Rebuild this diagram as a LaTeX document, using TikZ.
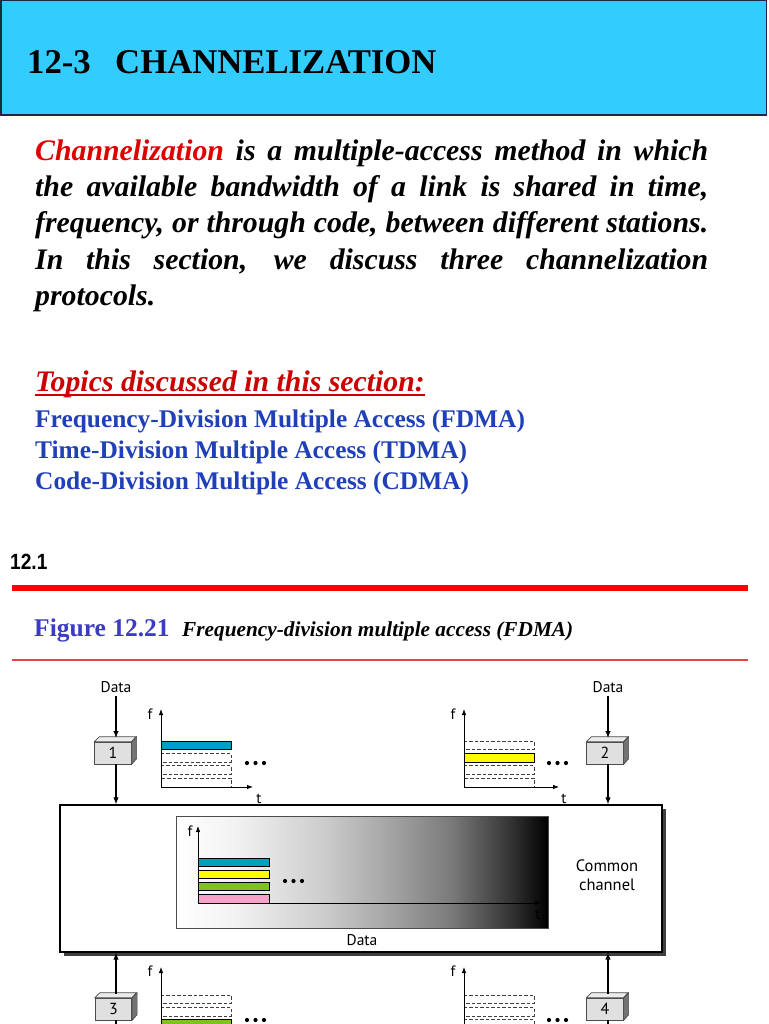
\documentclass[tikz,border=0pt]{standalone}
\usepackage{fontspec}
\setmainfont{Liberation Serif}
\newfontfamily\figsans{PT Sans}
\newfontfamily\arialfont{Liberation Sans}
\usetikzlibrary{arrows.meta,shadows}
\definecolor{headblue}{HTML}{33CCFF}
\definecolor{headborder}{HTML}{1A2A40}
\definecolor{chred}{HTML}{E00000}
\definecolor{topred}{HTML}{CC0000}
\definecolor{topicblue}{HTML}{2040B8}
\definecolor{figblue}{HTML}{3B3BC4}
\definecolor{ruled}{HTML}{FF0000}
\definecolor{thinred}{HTML}{E04848}
\definecolor{barblue}{HTML}{00A0C6}
\definecolor{baryellow}{HTML}{FFFF00}
\definecolor{bargreen}{HTML}{7DC21E}
\definecolor{barpink}{HTML}{F7A3CC}
\pgfdeclarehorizontalshading{chgrad}{100bp}{color(0bp)=(white); color(25bp)=(white); color(33bp)=(black!5); color(45bp)=(black!20); color(55bp)=(black!38); color(62bp)=(black!52); color(70bp)=(black!80); color(75bp)=(black); color(100bp)=(black)}
\newcommand\mkstation[4]{% name, x, y, label
  \node[frontface] (#1) at (#2,#3) {#4};
  \filldraw[draw=black!70, line width=0.7pt, fill=black!8] (#1.north west) -- ++(5,-5) -- ++(36.5,0) -- (#1.north east) -- cycle;
  \filldraw[draw=black!70, line width=0.7pt, fill=black!55] (#1.north east) -- ++(5,-5) -- ++(0,22) -- (#1.south east) -- cycle;
}
\newcommand\mkdots[2]{% x, y
  \fill (#1,#2) circle (2.1) (#1+8.5,#2) circle (2.1) (#1+17,#2) circle (2.1);
}
\begin{document}
\begin{tikzpicture}[x=1pt,y=-1pt,
  txt/.style={anchor=base west, inner sep=0},
  para/.style={txt, font=\bfseries\itshape\fontsize{29.8pt}{36pt}\selectfont},
  topic/.style={txt, text=topicblue, font=\bfseries\fontsize{25.4pt}{30pt}\selectfont},
  arr/.style={-{Latex[length=7pt,width=5.5pt]}, line width=1.1pt},
  axisarr/.style={-{Latex[length=6pt,width=4.5pt]}, line width=0.8pt},
  slotbox/.style={draw=black!75, dash pattern=on 3.5pt off 2pt, line width=0.7pt},
  barbox/.style={draw=black, line width=0.7pt},
  lab/.style={font=\figsans\fontsize{15.5pt}{18pt}\selectfont, inner sep=0},
  axlab/.style={font=\figsans\fontsize{15pt}{17pt}\selectfont, inner sep=0},
  frontface/.style={draw=black!70, fill=black!12, line width=0.7pt, minimum width=36.5pt, minimum height=22pt, inner sep=0, font=\figsans\fontsize{16pt}{16pt}\selectfont},
  wire/.style={line width=1.1pt}
]
\useasboundingbox (0,0) rectangle (768,1024);
\clip (0,0) rectangle (768,1024);
\fill[white] (0,0) rectangle (768,1024);

% header
\draw[draw=headborder, line width=1.5pt, fill=headblue] (0.75,0.75) rectangle (766.5,115);
\node[txt, font=\bfseries\fontsize{34.7pt}{40pt}\selectfont] (tnum) at (27,74) {12-3};
\node[txt, font=\bfseries\fontsize{34.7pt}{40pt}\selectfont] (tword) at (115,74) {CHANNELIZATION};

% paragraph
\node[para] (p1) at (35,161) {\makebox[673pt][s]{{\color{chred}Channelization} is a multiple-access method in which}};
\node[para] (p2) at (35,197) {\makebox[673pt][s]{the available bandwidth of a link is shared in time,}};
\node[para] (p3) at (35,233) {\makebox[673pt][s]{frequency, or through code, between different stations.}};
\node[para] (p4) at (35,269) {\makebox[673pt][s]{In this section, we discuss three channelization}};
\node[para] (p5) at (35,305) {protocols.};

% topics
\node[para, text=topred] (tp) at (35,391) {Topics discussed in this section:};
\draw[topred, line width=2pt] ([yshift=-4pt]tp.base west) -- ([yshift=-4pt]tp.base east);
\node[topic] (t1) at (35,427) {Frequency-Division Multiple Access (FDMA)};
\node[topic] (t2) at (35,458) {Time-Division Multiple Access (TDMA)};
\node[topic] (t3) at (35,489) {Code-Division Multiple Access (CDMA)};

% slide number and rules
\node[txt] (num) at (10,569) {\scalebox{0.87}[1]{\arialfont\bfseries\fontsize{22pt}{24pt}\selectfont 12.1}};
\draw[ruled, line width=6pt] (12,588) -- (748,588);
\node[txt, text=figblue, font=\bfseries\fontsize{25.5pt}{30pt}\selectfont] (fig) at (34,636) {Figure 12.21};
\node[txt, font=\bfseries\itshape\fontsize{21.3pt}{26pt}\selectfont] (cap) at (182,636) {Frequency-division multiple access (FDMA)};
\draw[thinred, line width=1.2pt] (12,660) -- (748,660);

% common channel
\node[draw=black, line width=1.3pt, fill=white, minimum width=602pt, minimum height=147pt, inner sep=0,
      drop shadow={shadow xshift=3.5pt, shadow yshift=-3.5pt, fill=black!75, opacity=1}] (chan) at (361,878.5) {};
\node[draw=black!70, line width=0.8pt, shading=chgrad, minimum width=372pt, minimum height=112pt, inner sep=0] (grad) at (362,872) {};
\node[lab] (chdata) at (362,940) {Data};
\node[lab, align=center, font=\figsans\fontsize{16.5pt}{18.5pt}\selectfont] (common) at (607,875) {Common\\channel};
% inner chart
\coordinate (go) at (198,903);
\coordinate (gf) at (198,826);
\coordinate (gt) at (541,903);
\fill[barblue] (198,857.9) rectangle (269,866.4);
\draw[barbox] (198,857.9) rectangle (269,866.4);
\fill[baryellow] (198,870.1) rectangle (269,878.6);
\draw[barbox] (198,870.1) rectangle (269,878.6);
\fill[bargreen] (198,882.3) rectangle (269,890.8);
\draw[barbox] (198,882.3) rectangle (269,890.8);
\fill[barpink] (198,894.5) rectangle (269,903);
\draw[barbox] (198,894.5) rectangle (269,903);
\draw[axisarr] (go) -- (gf);
\draw[axisarr] (go) -- (gt);
\node[axlab] (gfl) at (190,831) {f};
\node[axlab] (gtl) at (538,915) {t};
\mkdots{285}{881}

% station 1
\node[lab, inner sep=3pt] (d1) at (116,687) {Data};
\mkstation{s1}{113}{753}{1}
\coordinate (s1t) at (116,738);
\draw[arr] (d1) -- (s1t);
\draw[arr] (s1.south -| s1t) -- (chan.north -| s1t);
\coordinate (c1o) at (161,787);
\coordinate (c1f) at (161,709);
\coordinate (c1t) at (253,787);
\fill[barblue] (161,741) rectangle (231,749.7);
\draw[barbox] (161,741) rectangle (231,749.7);
\draw[slotbox] (161,753.3) rectangle (231,762);
\draw[slotbox] (161,765.6) rectangle (231,774.3);
\draw[slotbox] (161,777.9) rectangle (231,787);
\draw[axisarr] (c1o) -- (c1f);
\draw[axisarr] (c1o) -- (c1t);
\node[axlab] (c1fl) at (150,714) {f};
\node[axlab] (c1tl) at (259,799) {t};
\mkdots{247}{763}

% station 2
\node[lab, inner sep=3pt] (d2) at (608,687) {Data};
\mkstation{s2}{605}{753}{2}
\coordinate (s2t) at (608,738);
\draw[arr] (d2) -- (s2t);
\draw[arr] (s2.south -| s2t) -- (chan.north -| s2t);
\coordinate (c2o) at (464,787);
\coordinate (c2f) at (464,709);
\coordinate (c2t) at (559,787);
\draw[slotbox] (464,741) rectangle (534,749.7);
\fill[baryellow] (464,753.3) rectangle (534,762);
\draw[barbox] (464,753.3) rectangle (534,762);
\draw[slotbox] (464,765.6) rectangle (534,774.3);
\draw[slotbox] (464,777.9) rectangle (534,787);
\draw[axisarr] (c2o) -- (c2f);
\draw[axisarr] (c2o) -- (c2t);
\node[axlab] (c2fl) at (453,714) {f};
\node[axlab] (c2tl) at (564,799) {t};
\mkdots{549}{763}

% station 3
\mkstation{s3}{113.5}{1009}{3}
\coordinate (s3t) at (116,993.5);
\coordinate (s3out) at (116,1040);
\draw[arr] (s3t) -- (chan.south -| s3t);
\draw[wire] (s3.south -| s3t) -- (s3out);
\coordinate (c3o) at (161,1044);
\coordinate (c3f) at (161,967);
\draw[slotbox] (161,995) rectangle (231,1003.7);
\draw[slotbox] (161,1007.3) rectangle (231,1016);
\fill[bargreen] (161,1019.6) rectangle (231,1028.3);
\draw[barbox] (161,1019.6) rectangle (231,1028.3);
\draw[axisarr] (c3o) -- (c3f);
\node[axlab] (c3fl) at (150,971) {f};
\mkdots{247}{1020}

% station 4
\mkstation{s4}{605}{1009}{4}
\coordinate (s4t) at (608,993.5);
\coordinate (s4out) at (608,1040);
\draw[arr] (s4t) -- (chan.south -| s4t);
\draw[wire] (s4.south -| s4t) -- (s4out);
\coordinate (c4o) at (464,1044);
\coordinate (c4f) at (464,967);
\draw[slotbox] (464,995) rectangle (534,1003.7);
\draw[slotbox] (464,1007.3) rectangle (534,1016);
\draw[slotbox] (464,1019.6) rectangle (534,1028.3);
\fill[barpink] (464,1031.9) rectangle (534,1040.6);
\draw[axisarr] (c4o) -- (c4f);
\node[axlab] (c4fl) at (453,971) {f};
\mkdots{549}{1020}
\end{tikzpicture}
\end{document}
